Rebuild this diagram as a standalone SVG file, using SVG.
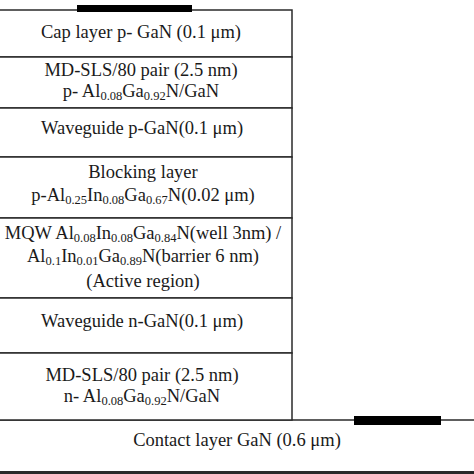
<svg xmlns="http://www.w3.org/2000/svg" width="474" height="474" viewBox="0 0 474 474">
<style>
.l{fill:#fff;stroke:#2a2a2a;stroke-width:1.5}
text{font-family:'Liberation Serif','Times New Roman','DejaVu Serif',serif;font-size:18.5px;fill:#1a1a1a;text-anchor:middle}
.s{font-size:12.5px}
.pad{fill:#000}
</style>
<rect width="474" height="474" fill="#fff"/>
<g id="contact-layer">
<rect class="l" x="-2" y="420" width="478" height="52"/>
<rect x="0" y="471" width="474" height="3" fill="#2a2a2a"/>
<text x="237" y="446">Contact layer GaN (0.6 μm)</text>
</g>
<g id="cap-layer">
<rect class="l" x="-2" y="10" width="294" height="47"/>
<text x="141" y="38">Cap layer p- GaN (0.1 μm)</text>
</g>
<g id="md-sls-p">
<rect class="l" x="-2" y="57" width="294" height="51"/>
<text x="141" y="76">MD-SLS/80 pair (2.5 nm)</text>
<text x="141" y="97">p- Al<tspan class="s" dy="3">0.08</tspan><tspan dy="-3">Ga</tspan><tspan class="s" dy="3">0.92</tspan><tspan dy="-3">N/GaN</tspan></text>
</g>
<g id="waveguide-p">
<rect class="l" x="-2" y="108" width="294" height="49"/>
<text x="142" y="134">Waveguide p-GaN(0.1  μm)</text>
</g>
<g id="blocking-layer">
<rect class="l" x="-2" y="157" width="294" height="61"/>
<text x="143" y="178">Blocking layer</text>
<text x="143" y="201">p-Al<tspan class="s" dy="3">0.25</tspan><tspan dy="-3">In</tspan><tspan class="s" dy="3">0.08</tspan><tspan dy="-3">Ga</tspan><tspan class="s" dy="3">0.67</tspan><tspan dy="-3">N(0.02  μm)</tspan></text>
</g>
<g id="mqw-active-region">
<rect class="l" x="-2" y="218" width="294" height="80"/>
<text x="143" y="239">MQW Al<tspan class="s" dy="3">0.08</tspan><tspan dy="-3">In</tspan><tspan class="s" dy="3">0.08</tspan><tspan dy="-3">Ga</tspan><tspan class="s" dy="3">0.84</tspan><tspan dy="-3">N(well 3nm) /</tspan></text>
<text x="143" y="262">Al<tspan class="s" dy="3">0.1</tspan><tspan dy="-3">In</tspan><tspan class="s" dy="3">0.01</tspan><tspan dy="-3">Ga</tspan><tspan class="s" dy="3">0.89</tspan><tspan dy="-3">N(barrier 6 nm)</tspan></text>
<text x="143" y="287">(Active  region)</text>
</g>
<g id="waveguide-n">
<rect class="l" x="-2" y="298" width="294" height="55"/>
<text x="142" y="327">Waveguide n-GaN(0.1  μm)</text>
</g>
<g id="md-sls-n">
<rect class="l" x="-2" y="353" width="294" height="67"/>
<text x="142" y="381">MD-SLS/80 pair (2.5 nm)</text>
<text x="142" y="402">n- Al<tspan class="s" dy="3">0.08</tspan><tspan dy="-3">Ga</tspan><tspan class="s" dy="3">0.92</tspan><tspan dy="-3">N/GaN</tspan></text>
</g>
<g id="contacts">
<rect id="p-contact" class="pad" x="77" y="5" width="115" height="7"/>
<rect id="n-contact" class="pad" x="354" y="416" width="87" height="9"/>
</g>
</svg>
